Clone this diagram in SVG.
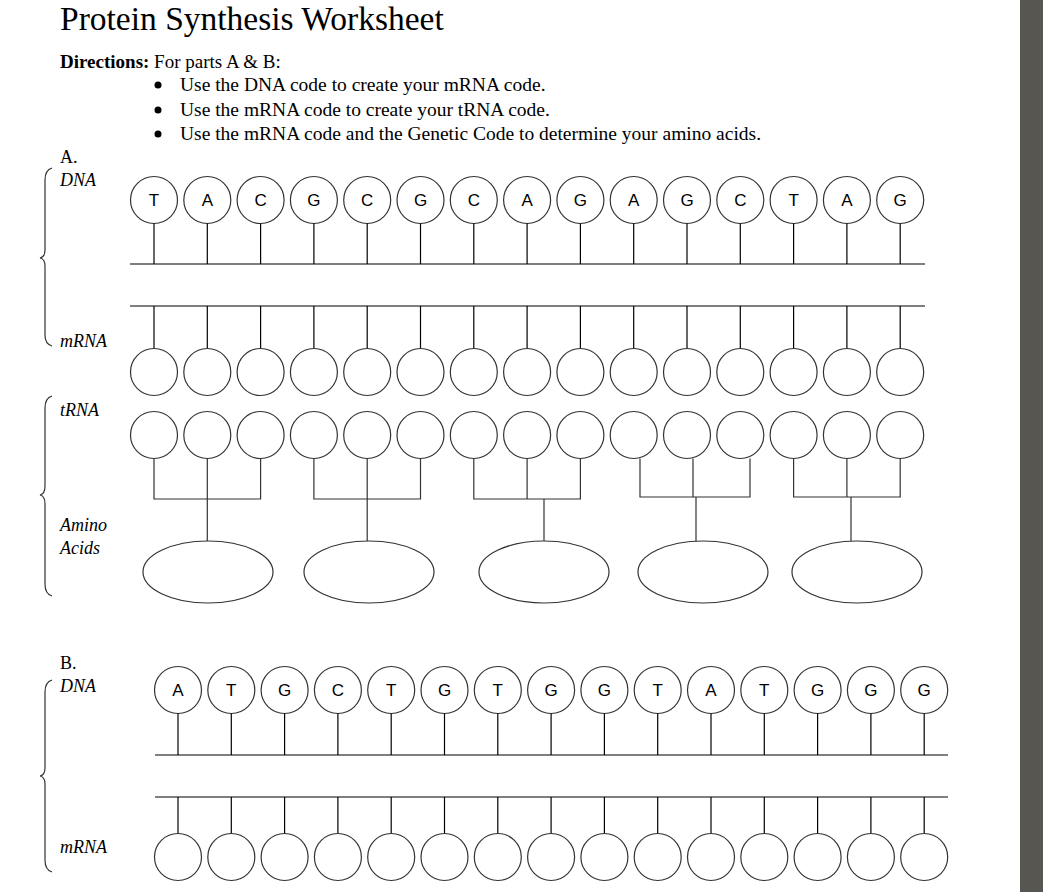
<svg xmlns="http://www.w3.org/2000/svg" width="1043" height="892" viewBox="0 0 1043 892">
<style>
.s{font-family:"Liberation Serif",serif;fill:#000}
.i{font-family:"Liberation Serif",serif;font-style:italic;font-size:18px}
.b{font-family:"Liberation Sans",sans-serif;font-size:17px;text-anchor:middle}
circle,ellipse,path.l{fill:none;stroke:#333;stroke-width:1.2}
circle.dot{fill:#000;stroke:none}
line{stroke:#000;stroke-width:1.2}
</style>
<rect width="1043" height="892" fill="#fff"/>
<rect x="1020" y="0" width="23" height="892" fill="#585650"/>
<text class="s" x="60" y="30" font-size="33.5">Protein Synthesis Worksheet</text>
<text class="s" x="60" y="68" font-size="19"><tspan font-weight="bold">Directions:</tspan> For parts A &amp; B:</text>
<g class="s" font-size="19.5">
<circle class="dot" cx="158" cy="85" r="3.5"/><text x="180" y="91">Use the DNA code to create your mRNA code.</text>
<circle class="dot" cx="158" cy="110" r="3.5"/><text x="180" y="116">Use the mRNA code to create your tRNA code.</text>
<circle class="dot" cx="158" cy="134" r="3.5"/><text x="180" y="140">Use the mRNA code and the Genetic Code to determine your amino acids.</text>
</g>
<text class="s" x="60" y="163" font-size="18">A.</text>
<text class="i" x="60" y="186">DNA</text>
<text class="i" x="60" y="347">mRNA</text>
<text class="i" x="60" y="416">tRNA</text>
<text class="i" x="60" y="531">Amino</text>
<text class="i" x="60" y="554">Acids</text>
<text class="s" x="60" y="669" font-size="18">B.</text>
<text class="i" x="60" y="692">DNA</text>
<text class="i" x="60" y="853">mRNA</text>
<g id="braces">
<path class="l" d="M52,168 Q45,170 45,180 L45,250 Q45,257 40,258 Q45,259 45,266 L45,335 Q45,344 52,346"/>
<path class="l" d="M52,396 Q45,398 45,408 L45,486 Q45,494 40,495 Q45,496 45,504 L45,584 Q45,594 52,596"/>
<path class="l" d="M52,680 Q45,682 45,692 L45,768 Q45,775 40,776 Q45,777 45,784 L45,860 Q45,870 52,872"/>
</g>
<g id="connectors">
<line x1="130" y1="264" x2="925" y2="264"/>
<line x1="130" y1="306" x2="925" y2="306"/>
<line x1="155" y1="755" x2="948" y2="755"/>
<line x1="155" y1="797" x2="948" y2="797"/>
</g>
<g id="a-dna">
<g><circle cx="154" cy="200" r="23.5"/><text class="b" x="154" y="206">T</text><line x1="154" y1="223.5" x2="154" y2="264"/></g>
<g><circle cx="207.3" cy="200" r="23.5"/><text class="b" x="207.3" y="206">A</text><line x1="207.3" y1="223.5" x2="207.3" y2="264"/></g>
<g><circle cx="260.6" cy="200" r="23.5"/><text class="b" x="260.6" y="206">C</text><line x1="260.6" y1="223.5" x2="260.6" y2="264"/></g>
<g><circle cx="313.9" cy="200" r="23.5"/><text class="b" x="313.9" y="206">G</text><line x1="313.9" y1="223.5" x2="313.9" y2="264"/></g>
<g><circle cx="367.2" cy="200" r="23.5"/><text class="b" x="367.2" y="206">C</text><line x1="367.2" y1="223.5" x2="367.2" y2="264"/></g>
<g><circle cx="420.5" cy="200" r="23.5"/><text class="b" x="420.5" y="206">G</text><line x1="420.5" y1="223.5" x2="420.5" y2="264"/></g>
<g><circle cx="473.8" cy="200" r="23.5"/><text class="b" x="473.8" y="206">C</text><line x1="473.8" y1="223.5" x2="473.8" y2="264"/></g>
<g><circle cx="527.1" cy="200" r="23.5"/><text class="b" x="527.1" y="206">A</text><line x1="527.1" y1="223.5" x2="527.1" y2="264"/></g>
<g><circle cx="580.4" cy="200" r="23.5"/><text class="b" x="580.4" y="206">G</text><line x1="580.4" y1="223.5" x2="580.4" y2="264"/></g>
<g><circle cx="633.7" cy="200" r="23.5"/><text class="b" x="633.7" y="206">A</text><line x1="633.7" y1="223.5" x2="633.7" y2="264"/></g>
<g><circle cx="687" cy="200" r="23.5"/><text class="b" x="687" y="206">G</text><line x1="687" y1="223.5" x2="687" y2="264"/></g>
<g><circle cx="740.3" cy="200" r="23.5"/><text class="b" x="740.3" y="206">C</text><line x1="740.3" y1="223.5" x2="740.3" y2="264"/></g>
<g><circle cx="793.6" cy="200" r="23.5"/><text class="b" x="793.6" y="206">T</text><line x1="793.6" y1="223.5" x2="793.6" y2="264"/></g>
<g><circle cx="846.9" cy="200" r="23.5"/><text class="b" x="846.9" y="206">A</text><line x1="846.9" y1="223.5" x2="846.9" y2="264"/></g>
<g><circle cx="900.2" cy="200" r="23.5"/><text class="b" x="900.2" y="206">G</text><line x1="900.2" y1="223.5" x2="900.2" y2="264"/></g>
</g>
<g id="a-mrna">
<g><line x1="154" y1="306" x2="154" y2="348.5"/><circle cx="154" cy="372" r="23.5"/></g>
<g><line x1="207.3" y1="306" x2="207.3" y2="348.5"/><circle cx="207.3" cy="372" r="23.5"/></g>
<g><line x1="260.6" y1="306" x2="260.6" y2="348.5"/><circle cx="260.6" cy="372" r="23.5"/></g>
<g><line x1="313.9" y1="306" x2="313.9" y2="348.5"/><circle cx="313.9" cy="372" r="23.5"/></g>
<g><line x1="367.2" y1="306" x2="367.2" y2="348.5"/><circle cx="367.2" cy="372" r="23.5"/></g>
<g><line x1="420.5" y1="306" x2="420.5" y2="348.5"/><circle cx="420.5" cy="372" r="23.5"/></g>
<g><line x1="473.8" y1="306" x2="473.8" y2="348.5"/><circle cx="473.8" cy="372" r="23.5"/></g>
<g><line x1="527.1" y1="306" x2="527.1" y2="348.5"/><circle cx="527.1" cy="372" r="23.5"/></g>
<g><line x1="580.4" y1="306" x2="580.4" y2="348.5"/><circle cx="580.4" cy="372" r="23.5"/></g>
<g><line x1="633.7" y1="306" x2="633.7" y2="348.5"/><circle cx="633.7" cy="372" r="23.5"/></g>
<g><line x1="687" y1="306" x2="687" y2="348.5"/><circle cx="687" cy="372" r="23.5"/></g>
<g><line x1="740.3" y1="306" x2="740.3" y2="348.5"/><circle cx="740.3" cy="372" r="23.5"/></g>
<g><line x1="793.6" y1="306" x2="793.6" y2="348.5"/><circle cx="793.6" cy="372" r="23.5"/></g>
<g><line x1="846.9" y1="306" x2="846.9" y2="348.5"/><circle cx="846.9" cy="372" r="23.5"/></g>
<g><line x1="900.2" y1="306" x2="900.2" y2="348.5"/><circle cx="900.2" cy="372" r="23.5"/></g>
</g>
<g id="a-trna">
<circle cx="154" cy="435" r="23.5"/><circle cx="207.3" cy="435" r="23.5"/><circle cx="260.6" cy="435" r="23.5"/>
<circle cx="313.9" cy="435" r="23.5"/><circle cx="367.2" cy="435" r="23.5"/><circle cx="420.5" cy="435" r="23.5"/>
<circle cx="473.8" cy="435" r="23.5"/><circle cx="527.1" cy="435" r="23.5"/><circle cx="580.4" cy="435" r="23.5"/>
<circle cx="633.7" cy="435" r="23.5"/><circle cx="687" cy="435" r="23.5"/><circle cx="740.3" cy="435" r="23.5"/>
<circle cx="793.6" cy="435" r="23.5"/><circle cx="846.9" cy="435" r="23.5"/><circle cx="900.2" cy="435" r="23.5"/>
</g>
<g id="a-brackets">
<path class="l" d="M154,458.5V499H260.6V458.5M207.3,458.5V541"/>
<path class="l" d="M313.9,458.5V499H420.5V458.5M367.2,458.5V541"/>
<path class="l" d="M473.8,458.5V499H580.4V458.5M527.1,458.5V499M544,499V541"/>
<path class="l" d="M640,458.5V497H750V458.5M693,458.5V497M696,497V541"/>
<path class="l" d="M793.6,458.5V497H900.2V458.5M846.9,458.5V497M851,497V541"/>
</g>
<g id="amino">
<ellipse cx="208" cy="572" rx="65" ry="31"/>
<ellipse cx="369" cy="572" rx="65" ry="31"/>
<ellipse cx="544" cy="572" rx="65" ry="31"/>
<ellipse cx="703" cy="572" rx="65" ry="31"/>
<ellipse cx="857" cy="572" rx="65" ry="31"/>
</g>
<g id="b-dna">
<g><circle cx="178" cy="690" r="23.5"/><text class="b" x="178" y="696">A</text><line x1="178" y1="713.5" x2="178" y2="755"/></g>
<g><circle cx="231.3" cy="690" r="23.5"/><text class="b" x="231.3" y="696">T</text><line x1="231.3" y1="713.5" x2="231.3" y2="755"/></g>
<g><circle cx="284.6" cy="690" r="23.5"/><text class="b" x="284.6" y="696">G</text><line x1="284.6" y1="713.5" x2="284.6" y2="755"/></g>
<g><circle cx="337.9" cy="690" r="23.5"/><text class="b" x="337.9" y="696">C</text><line x1="337.9" y1="713.5" x2="337.9" y2="755"/></g>
<g><circle cx="391.2" cy="690" r="23.5"/><text class="b" x="391.2" y="696">T</text><line x1="391.2" y1="713.5" x2="391.2" y2="755"/></g>
<g><circle cx="444.5" cy="690" r="23.5"/><text class="b" x="444.5" y="696">G</text><line x1="444.5" y1="713.5" x2="444.5" y2="755"/></g>
<g><circle cx="497.8" cy="690" r="23.5"/><text class="b" x="497.8" y="696">T</text><line x1="497.8" y1="713.5" x2="497.8" y2="755"/></g>
<g><circle cx="551.1" cy="690" r="23.5"/><text class="b" x="551.1" y="696">G</text><line x1="551.1" y1="713.5" x2="551.1" y2="755"/></g>
<g><circle cx="604.4" cy="690" r="23.5"/><text class="b" x="604.4" y="696">G</text><line x1="604.4" y1="713.5" x2="604.4" y2="755"/></g>
<g><circle cx="657.7" cy="690" r="23.5"/><text class="b" x="657.7" y="696">T</text><line x1="657.7" y1="713.5" x2="657.7" y2="755"/></g>
<g><circle cx="711" cy="690" r="23.5"/><text class="b" x="711" y="696">A</text><line x1="711" y1="713.5" x2="711" y2="755"/></g>
<g><circle cx="764.3" cy="690" r="23.5"/><text class="b" x="764.3" y="696">T</text><line x1="764.3" y1="713.5" x2="764.3" y2="755"/></g>
<g><circle cx="817.6" cy="690" r="23.5"/><text class="b" x="817.6" y="696">G</text><line x1="817.6" y1="713.5" x2="817.6" y2="755"/></g>
<g><circle cx="870.9" cy="690" r="23.5"/><text class="b" x="870.9" y="696">G</text><line x1="870.9" y1="713.5" x2="870.9" y2="755"/></g>
<g><circle cx="924.2" cy="690" r="23.5"/><text class="b" x="924.2" y="696">G</text><line x1="924.2" y1="713.5" x2="924.2" y2="755"/></g>
</g>
<g id="b-mrna">
<g><line x1="178" y1="797" x2="178" y2="833.5"/><circle cx="178" cy="857" r="23.5"/></g>
<g><line x1="231.3" y1="797" x2="231.3" y2="833.5"/><circle cx="231.3" cy="857" r="23.5"/></g>
<g><line x1="284.6" y1="797" x2="284.6" y2="833.5"/><circle cx="284.6" cy="857" r="23.5"/></g>
<g><line x1="337.9" y1="797" x2="337.9" y2="833.5"/><circle cx="337.9" cy="857" r="23.5"/></g>
<g><line x1="391.2" y1="797" x2="391.2" y2="833.5"/><circle cx="391.2" cy="857" r="23.5"/></g>
<g><line x1="444.5" y1="797" x2="444.5" y2="833.5"/><circle cx="444.5" cy="857" r="23.5"/></g>
<g><line x1="497.8" y1="797" x2="497.8" y2="833.5"/><circle cx="497.8" cy="857" r="23.5"/></g>
<g><line x1="551.1" y1="797" x2="551.1" y2="833.5"/><circle cx="551.1" cy="857" r="23.5"/></g>
<g><line x1="604.4" y1="797" x2="604.4" y2="833.5"/><circle cx="604.4" cy="857" r="23.5"/></g>
<g><line x1="657.7" y1="797" x2="657.7" y2="833.5"/><circle cx="657.7" cy="857" r="23.5"/></g>
<g><line x1="711" y1="797" x2="711" y2="833.5"/><circle cx="711" cy="857" r="23.5"/></g>
<g><line x1="764.3" y1="797" x2="764.3" y2="833.5"/><circle cx="764.3" cy="857" r="23.5"/></g>
<g><line x1="817.6" y1="797" x2="817.6" y2="833.5"/><circle cx="817.6" cy="857" r="23.5"/></g>
<g><line x1="870.9" y1="797" x2="870.9" y2="833.5"/><circle cx="870.9" cy="857" r="23.5"/></g>
<g><line x1="924.2" y1="797" x2="924.2" y2="833.5"/><circle cx="924.2" cy="857" r="23.5"/></g>
</g>
</svg>
